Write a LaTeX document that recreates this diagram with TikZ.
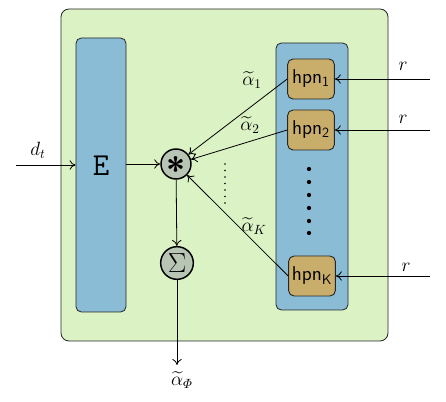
\documentclass[tikz,border=0pt]{standalone}
\usepackage{amsmath}
\usepackage{fontspec}
\usetikzlibrary{fit,arrows.meta}
\definecolor{bggreen}{HTML}{DBF2C4}
\definecolor{boxblue}{HTML}{8ABDD5}
\definecolor{hpntan}{HTML}{C9AE6B}
\definecolor{opgray}{HTML}{B8C4B4}
\begin{document}
\begin{tikzpicture}[x=0.75pt,y=-0.75pt,
  container/.style={draw=black!85, line width=0.6pt, inner sep=0pt},
  outerbox/.style={container, fill=bggreen, rounded corners=6pt},
  bluebox/.style={container, fill=boxblue, rounded corners=4pt},
  hpnbox/.style={draw=black!85, line width=0.7pt, fill=hpntan, rounded corners=4pt,
     minimum width=35pt, minimum height=30pt, inner sep=0pt, font=\sffamily\fontsize{15}{18}\selectfont},
  opnode/.style={circle, draw=black, line width=1.1pt, fill=opgray, inner sep=0pt},
  arr/.style={-{To[length=4.5pt,width=7pt]}, line width=0.6pt},
  lbl/.style={font=\fontsize{14.4}{17}\selectfont}]
\useasboundingbox (0,0) rectangle (446,402);
% outer box
\node[outerbox, fit={(61,9) (388,341)}] (outer) {};
% encoder
\node[bluebox, fit={(76,38) (126,312)}] (E) {};
\node[font=\fontsize{24}{28}\selectfont\ttfamily] (Elbl) at (101,166) {E};
% right container
\node[bluebox, fit={(276,43) (348,310)}] (stack) {};
% hpn nodes
\node[hpnbox] (h1) at (311,79) {hpn$_{\mathsf{1}}$};
\node[hpnbox] (h2) at (311,130) {hpn$_{\mathsf{2}}$};
\node[hpnbox] (hK) at (312,276) {hpn$_{\mathsf{K}}$};
% operators
\node[opnode, minimum size=22.5pt] (star) at (176,164) {};
\node[font=\fontsize{26}{28}\selectfont\sffamily\bfseries] (starl) at (176,170) {*};
\node[opnode, minimum size=24.5pt, font=\fontsize{20.74}{22}\selectfont] (sum) at (177,263) {$\Sigma$};
% input d_t
\coordinate (din) at (16,165);
\draw[arr] (din) -- (din -| E.west);
\node[lbl] (dtl) at (38,150) {$d_t$};
% E to star
\draw[arr] (E.east |- star) -- (star.west);
% hpn to star
\draw[arr] (h1.west) -- (star);
\draw[arr] (h2.west) -- (star);
\draw[arr] (hK.west) -- (star);
\node[lbl] (a1) at (252,80) {$\widetilde{\alpha}_1$};
\node[lbl] (a2) at (250,125) {$\widetilde{\alpha}_2$};
\node[lbl] (aK) at (254,226) {$\widetilde{\alpha}_K$};
% r inputs
\coordinate (r1) at (430,79);
\coordinate (r2) at (430,130);
\coordinate (rK) at (430,276);
\draw[arr] (r1) -- (h1.east);
\draw[arr] (r2) -- (h2.east);
\draw[arr] (rK) -- (hK.east);
\node[lbl] (r1l) at (403,66) {$r$};
\node[lbl] (r2l) at (403,119) {$r$};
\node[lbl] (rKl) at (406,267) {$r$};
% star to sum
\draw[arr] (star) -- (sum);
% output
\coordinate (out) at (177,365);
\draw[arr] (sum) -- (out);
\node[lbl] (aout) at (182,380) {$\widetilde{\alpha}_{\varPhi}$};
% dots
\foreach \y in {169,182,195,208,221,233} \fill (309,\y) circle (1.6pt);
\foreach \y in {164,170.5,177,183.5,190,196.5,203} \fill (225,\y) circle (0.7pt);
\end{tikzpicture}
\end{document}
